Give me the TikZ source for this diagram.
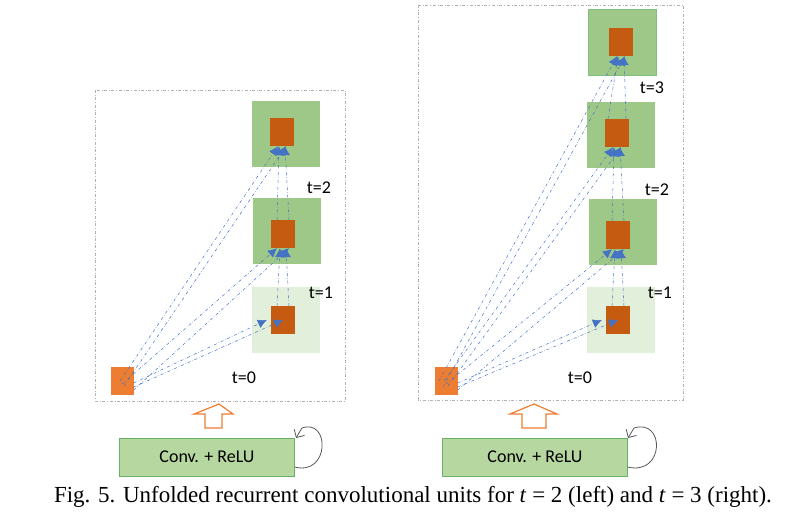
\documentclass[tikz,border=0pt]{standalone}
\usepackage{fontspec}
\setmainfont{Carlito}
\newfontfamily\capfont{Liberation Serif}
\usetikzlibrary{arrows.meta}
\definecolor{cellgreen}{RGB}{157,200,135}
\definecolor{lightcell}{RGB}{226,239,218}
\definecolor{unitred}{RGB}{197,90,17}
\definecolor{inorange}{RGB}{237,125,49}
\definecolor{flowblue}{RGB}{68,114,196}
\definecolor{convgreen}{RGB}{182,215,160}
\tikzset{
  panel/.style={draw=gray!60, dash dot, line width=0.8pt},
  layer/.style={fill=cellgreen, minimum width=68pt, minimum height=66pt, inner sep=0pt},
  firstlayer/.style={layer, fill=lightcell},
  unit/.style={fill=unitred, minimum width=24pt, minimum height=28pt, inner sep=0pt},
  input/.style={fill=inorange, minimum width=23pt, minimum height=28pt, inner sep=0pt},
  flow/.style={draw=flowblue, dash dot, line width=0.5pt, -{Latex[length=9pt,width=9pt]}},
  conv/.style={draw=green!50!black!60, fill=convgreen, minimum width=175pt, minimum height=38pt, font=\fontsize{18}{20}\selectfont},
  feed/.style={draw=inorange, line width=1.2pt, fill=white},
  tlab/.style={font=\fontsize{18}{20}\selectfont},
  loop/.style={draw=gray!70!black, line width=0.8pt}
}
\begin{document}
\begin{tikzpicture}[x=1pt,y=-1pt]
\useasboundingbox (0,0) rectangle (795,531);

% left: t = 2
\draw[panel] (95,90) rectangle (345,401);
\node[layer] (Ltwo) at (286,134) {};
\node[layer] (Lone) at (287,231) {};
\node[firstlayer] (Lzero) at (286,320) {};
\node[unit] (Lu2) at (282,132) {};
\node[unit] (Lu1) at (283,234) {};
\node[unit] (Lu0) at (283,320) {};
\node[input] (Lin) at (122,381) {};
\node[tlab] at (319,188) {t=2};
\node[tlab] at (321,293) {t=1};
\node[tlab] at (244,378) {t=0};
\draw[flow] ([yshift=-2pt]Lin.east) -- ([xshift=-4pt]Lu0.west);
\draw[flow] ([yshift=-6pt]Lin.east) -- (Lu0.center);
\draw[flow] ([yshift=-3pt]Lin.center) -- ([xshift=-6pt]Lu1.south);
\draw[flow] ([yshift=-9pt]Lin.east) -- ([xshift=6pt]Lu1.south);
\draw[flow] ([xshift=-2pt]Lin.center) -- ([xshift=-4pt]Lu2.south);
\draw[flow] ([xshift=2pt,yshift=-5pt]Lin.center) -- ([xshift=4pt]Lu2.south);
\draw[flow] ([xshift=-6pt]Lu0.north) -- ([xshift=-3pt]Lu1.south);
\draw[flow] ([xshift=6pt]Lu0.north) -- ([xshift=3pt]Lu1.south);
\draw[flow] ([xshift=-6pt]Lu1.north) -- ([xshift=-3pt]Lu2.south);
\draw[flow] ([xshift=6pt]Lu1.north) -- ([xshift=3pt]Lu2.south);
\draw[feed] (205,428) -- (205,414) -- (194,414) -- (219,404) -- (233,414) -- (222,414) -- (222,428) -- cycle;
\node[conv] (Lconv) at (207,457) {Conv. + ReLU};
\draw[loop] (Lconv.east) ++(0,10) .. controls (330,476) and (330,418) .. (302,428);
\draw[loop, -{Straight Barb[length=6pt]}] (302,428) -- (296,438);

% right: t = 3
\draw[panel] (418,5) rectangle (683,400);
\node[layer, draw=green!50!black!50] (Rthree) at (622,42) {};
\node[layer] (Rtwo) at (621,135) {};
\node[layer] (Rone) at (623,232) {};
\node[firstlayer] (Rzero) at (621,320) {};
\node[unit] (Ru3) at (621,42) {};
\node[unit] (Ru2) at (617,133) {};
\node[unit] (Ru1) at (618,235) {};
\node[unit] (Ru0) at (618,320) {};
\node[input] (Rin) at (446,381) {};
\node[tlab] at (652,88) {t=3};
\node[tlab] at (657,190) {t=2};
\node[tlab] at (660,293) {t=1};
\node[tlab] at (580,378) {t=0};
\draw[flow] ([yshift=-2pt]Rin.east) -- ([xshift=-4pt]Ru0.west);
\draw[flow] ([yshift=-6pt]Rin.east) -- (Ru0.center);
\draw[flow] ([yshift=-3pt]Rin.center) -- ([xshift=-6pt]Ru1.south);
\draw[flow] ([yshift=-9pt]Rin.east) -- ([xshift=6pt]Ru1.south);
\draw[flow] ([xshift=-2pt]Rin.center) -- ([xshift=-4pt]Ru2.south);
\draw[flow] ([xshift=2pt,yshift=-5pt]Rin.center) -- ([xshift=4pt]Ru2.south);
\draw[flow] ([xshift=-7pt]Rin.center) -- ([xshift=-4pt]Ru3.south);
\draw[flow] ([xshift=-3pt,yshift=-6pt]Rin.center) -- ([xshift=4pt]Ru3.south);
\draw[flow] ([xshift=-6pt]Ru0.north) -- ([xshift=-3pt]Ru1.south);
\draw[flow] ([xshift=6pt]Ru0.north) -- ([xshift=3pt]Ru1.south);
\draw[flow] ([xshift=-6pt]Ru1.north) -- ([xshift=-3pt]Ru2.south);
\draw[flow] ([xshift=6pt]Ru1.north) -- ([xshift=3pt]Ru2.south);
\draw[flow] ([xshift=-9pt]Ru2.north) -- ([xshift=-3pt]Ru3.south);
\draw[flow] ([xshift=9pt]Ru2.north) -- ([xshift=3pt]Ru3.south);
\draw[feed] (522,428) -- (522,414) -- (510,414) -- (534,404) -- (557,414) -- (546,414) -- (546,428) -- cycle;
\node[conv, minimum width=185pt] (Rconv) at (535,457) {Conv. + ReLU};
\draw[loop] (Rconv.east) ++(0,10) .. controls (665,476) and (665,418) .. (634,428);
\draw[loop, -{Straight Barb[length=6pt]}] (634,428) -- (628,438);

\node[font=\capfont\fontsize{23}{26}\selectfont] (caption) at (413,497)
  {Fig. 5. Unfolded recurrent convolutional units for \textit{t} = 2 (left) and \textit{t} = 3 (right).};
\end{tikzpicture}
\end{document}
